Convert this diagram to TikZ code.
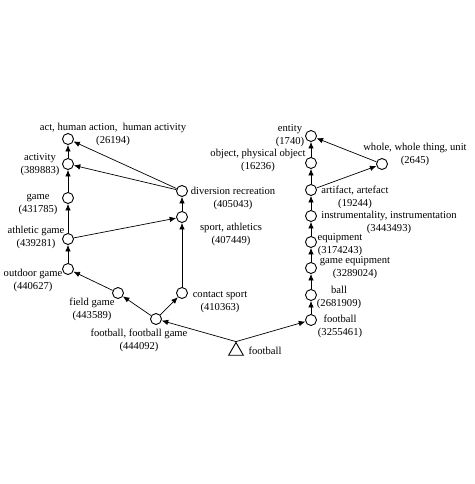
\documentclass[tikz,border=0pt]{standalone}
\usepackage{fontspec}
\setmainfont{Liberation Serif}
\usetikzlibrary{arrows.meta,shapes.geometric}

\begin{document}
\begin{tikzpicture}[x=1pt,y=-1pt,
  syn/.style={draw, circle, line width=0.9pt, minimum size=11pt, inner sep=0pt},
  word/.style={draw, regular polygon, regular polygon sides=3, line width=0.9pt, minimum size=17pt, inner sep=0pt},
  lbl/.style={align=center, inner sep=0pt, font=\fontsize{10.6}{13}\selectfont},
  isa/.style={-{Latex[length=6.5pt,width=5.5pt]}, line width=0.7pt}]
\useasboundingbox (0,0) rectangle (474,484);
% left hierarchy
\node[syn] (act) at (68,139) {};
\node[syn] (activity) at (68,164) {};
\node[syn] (game) at (68,198) {};
\node[syn] (athletic) at (68,239) {};
\node[syn] (outdoor) at (68,269) {};
\node[syn] (field) at (118,293) {};
\node[syn] (fgame) at (156,319) {};
\node[syn] (contact) at (182,293) {};
\node[syn] (sport) at (182,217) {};
\node[syn] (diversion) at (182,191) {};
\node[word] (q) at (236,351) {};
% right hierarchy
\node[syn] (fball) at (311,320) {};
\node[syn] (ball) at (311,295) {};
\node[syn] (gequip) at (311,268) {};
\node[syn] (equip) at (311,242) {};
\node[syn] (instr) at (311,216) {};
\node[syn] (artif) at (311,190) {};
\node[syn] (object) at (311,163) {};
\node[syn] (entity) at (311,136) {};
\node[syn] (whole) at (382,164) {};

\node[lbl] (act-l) at (113,134) {act, human action,\ \ human activity\\(26194)};
\node[lbl] (activity-l) at (40,165) {activity\\(389883)};
\node[lbl] (game-l) at (38,204) {game\\(431785)};
\node[lbl] (athletic-l) at (36,237) {athletic game\\(439281)};
\node[lbl] (outdoor-l) at (33,280) {outdoor game\\(440627)};
\node[lbl] (field-l) at (92,309) {field game\\(443589)};
\node[lbl] (fgame-l) at (139,340) {football, football game\\(444092)};
\node[lbl] (contact-l) at (220,302) {contact sport\\(410363)};
\node[lbl] (sport-l) at (231,234) {sport, athletics\\(407449)};
\node[lbl] (diversion-l) at (233,198) {diversion recreation\\(405043)};
\node[lbl] (q-l) at (265,351) {football};
\node[lbl] (entity-l) at (290,136) {entity\\(1740)};
\node[lbl] (object-l) at (258,160) {object, physical object\\(16236)};
\node[lbl] (whole-l) at (415,154) {whole, whole thing, unit\\(2645)};
\node[lbl] (artif-l) at (355,197) {artifact, artefact\\(19244)};
\node[lbl] (instr-l) at (389,222) {instrumentality, instrumentation\\(3443493)};
\node[lbl] (equip-l) at (340,245) {equipment\\(3174243)};
\node[lbl] (gequip-l) at (355,268) {game equipment\\(3289024)};
\node[lbl] (ball-l) at (339,297) {ball\\(2681909)};
\node[lbl] (fball-l) at (340,326) {football\\(3255461)};

\draw[isa] (activity) -- (act);
\draw[isa] (game) -- (activity);
\draw[isa] (athletic) -- (game);
\draw[isa] (outdoor) -- (athletic);
\draw[isa] (field) -- (outdoor);
\draw[isa] (fgame) -- (field);
\draw[isa] (fgame) -- (contact);
\draw[isa] (contact) -- (sport);
\draw[isa] (sport) -- (diversion);
\draw[isa] (diversion) -- (act);
\draw[isa] (diversion) -- (activity);
\draw[isa] (athletic) -- (sport);
\draw[isa] (q.corner 1) -- (fgame);
\draw[isa] (q.corner 1) -- (fball);
\draw[isa] (fball) -- (ball);
\draw[isa] (ball) -- (gequip);
\draw[isa] (gequip) -- (equip);
\draw[isa] (equip) -- (instr);
\draw[isa] (instr) -- (artif);
\draw[isa] (artif) -- (object);
\draw[isa] (object) -- (entity);
\draw[isa] (artif) -- (whole);
\draw[isa] (whole) -- (entity);
\end{tikzpicture}
\end{document}
